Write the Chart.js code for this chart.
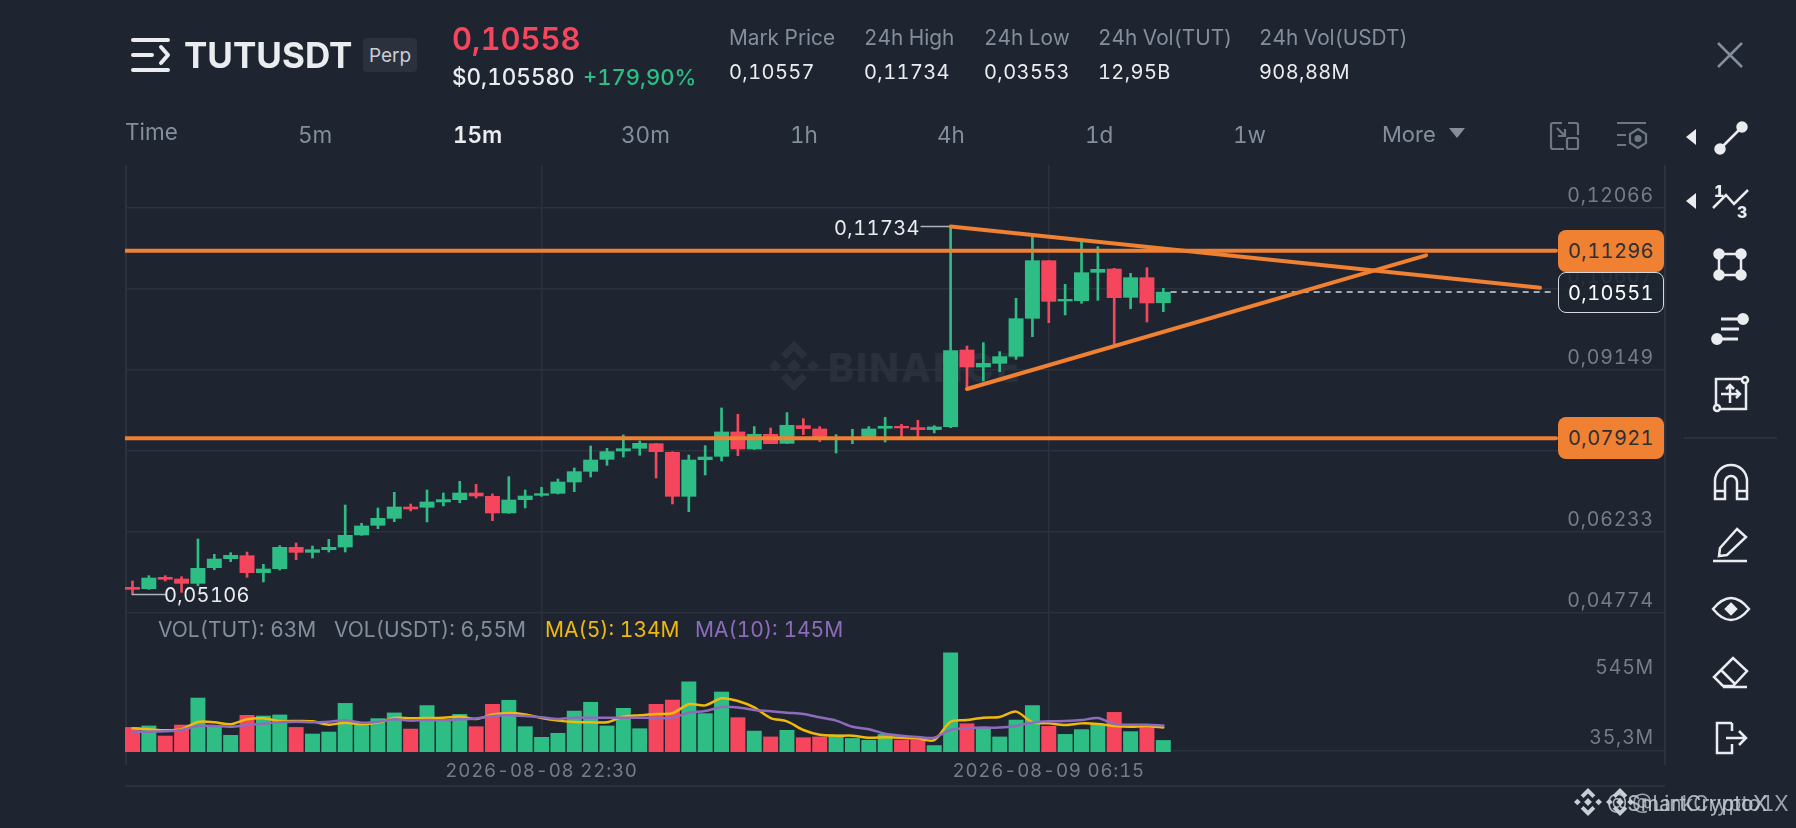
<!DOCTYPE html>
<html><head><meta charset="utf-8">
<script src="https://cdn.jsdelivr.net/npm/chart.js@4/dist/chart.umd.min.js"></script>
<style>
html,body{margin:0;padding:0;background:#1e2530;width:1796px;height:828px;overflow:hidden;font-family:Inter,"Noto Sans",sans-serif;font-feature-settings:"tnum" 1}
#c{position:absolute;left:0;top:0;z-index:2}
.t{position:absolute;white-space:nowrap;z-index:3;transform:translateY(-50%);line-height:1}
.g{color:#848e9c}.w{color:#eaecef}
.k{font-size:20.8px}.v{font-size:20px;letter-spacing:.4px}
.tb{font-size:22.5px;top:135px}
.lg{font-size:21px;top:629px}
.ln{position:absolute;background:#2b313d;z-index:1}
svg{position:absolute;z-index:3;overflow:visible}
.tag{position:absolute;z-index:4;left:1558px;width:106px;height:42px;border-radius:8px;background:#f08032;color:#2b2f36;font-size:20px;letter-spacing:.4px;display:flex;align-items:center;justify-content:center;box-sizing:border-box}
</style></head><body>
<div class="ln" style="left:125px;top:165px;width:1.5px;height:600px"></div>
<div class="ln" style="left:1664px;top:165px;width:1.5px;height:600px"></div>
<div class="ln" style="left:125px;top:785px;width:1540px;height:1.5px"></div>
<div class="ln" style="left:1684px;top:437px;width:93px;height:1.5px"></div>
<svg style="left:769px;top:341px;z-index:1" width="50" height="50" viewBox="0 0 50 50" fill="#2a303c"><path d="M25 0 38 13 33 18 25 10 17 18 12 13Z M0 25 6 19 12 25 6 31Z M38 25 44 19 50 25 44 31Z M25 18 32 25 25 32 18 25Z M12 37 17 32 25 40 33 32 38 37 25 50Z"/></svg>
<div class="t" style="left:828px;top:367px;font-size:39px;font-weight:800;color:#2a303c;letter-spacing:2px;z-index:1">BINANCE</div>

<svg style="left:130px;top:36px" width="42" height="38" fill="none" stroke="#eaecef" stroke-width="4" stroke-linecap="round" stroke-linejoin="round"><path d="M3 4H38M3 19H22M3 34H38M31 11 38 19 31 27"/></svg>
<div class="t w" style="left:184px;top:55px;font-size:35px;font-weight:700">TUTUSDT</div>
<div class="t" style="left:363px;top:55px;width:54px;height:34px;background:#2b313d;border-radius:4px;color:#c9ced6;font-size:19px;display:flex;align-items:center;justify-content:center">Perp</div>
<div class="t" style="left:452px;top:38px;font-size:31px;font-weight:600;color:#f6465d">0,10558</div>
<div class="t w" style="left:452px;top:77px;font-size:22.5px;font-weight:500">$0,105580</div>
<div class="t" style="left:583px;top:77px;font-size:22px;font-weight:500;color:#2ebd85">+179,90%</div>
<div class="t g k" style="left:729px;top:38px">Mark Price</div><div class="t w v" style="left:729px;top:72px">0,10557</div>
<div class="t g k" style="left:864px;top:38px">24h High</div><div class="t w v" style="left:864px;top:72px">0,11734</div>
<div class="t g k" style="left:984px;top:38px">24h Low</div><div class="t w v" style="left:984px;top:72px">0,03553</div>
<div class="t g k" style="left:1098px;top:38px">24h Vol(TUT)</div><div class="t w v" style="left:1098px;top:72px">12,95B</div>
<div class="t g k" style="left:1259px;top:38px">24h Vol(USDT)</div><div class="t w v" style="left:1259px;top:72px">908,88M</div>

<svg style="left:1716px;top:41px" width="28" height="28" stroke="#848e9c" stroke-width="2.5" fill="none"><path d="M2 2 26 26M26 2 2 26"/></svg>

<div class="t g tb" style="left:125px;top:132px">Time</div>
<div class="t g tb" style="left:298px">5m</div>
<div class="t w tb" style="left:453px;font-weight:600">15m</div>
<div class="t g tb" style="left:621px">30m</div>
<div class="t g tb" style="left:790px">1h</div>
<div class="t g tb" style="left:937px">4h</div>
<div class="t g tb" style="left:1085px">1d</div>
<div class="t g tb" style="left:1233px">1w</div>
<div class="t g tb" style="left:1382px;top:134px;font-size:22px">More</div>
<svg style="left:1449px;top:128px" width="16" height="10" fill="#848e9c"><path d="M0 0H16L8 10Z"/></svg>
<svg style="left:1550px;top:121px" width="30" height="30" fill="none" stroke="#6f7785" stroke-width="2.2"><path d="M12 2H3Q1 2 1 4V26Q1 28 3 28H14M18 2H26Q28 2 28 4V14M7 7 15 15M15 8V15H8"/><rect x="17" y="17" width="11" height="11" rx="1.5"/></svg>
<svg style="left:1617px;top:121px" width="32" height="30" fill="none" stroke="#6f7785" stroke-width="2.2"><path d="M0 2H29M0 14H9M0 24H9M21 8 29 13V22L21 27 13 22V13Z"/><circle cx="21" cy="17.5" r="2.5" fill="#6f7785"/></svg>

<div class="t g lg" style="left:158px">VOL(TUT): 63M</div>
<div class="t g lg" style="left:334px">VOL(USDT): 6,55M</div>
<div class="t lg" style="left:545px;color:#f0b90b">MA(5): 134M</div>
<div class="t lg" style="left:695px;color:#8e6cbb">MA(10): 145M</div>

<div class="t w v" style="left:834px;top:228px">0,11734</div>
<div class="t w v" style="left:164px;top:595px">0,05106</div>

<div class="tag" style="top:230px">0,11296</div>
<div class="tag" style="top:417px">0,07921</div>
<div class="tag" style="top:272px;height:41px;background:rgba(30,37,48,.88);border:1.5px solid #d5d8dc;color:#fff">0,10551</div>

<!-- right toolbar -->
<svg style="left:1686px;top:129px" width="12" height="16" fill="#eaecef"><path d="M10 0V16L0 8Z"/></svg>
<svg style="left:1686px;top:193px" width="12" height="16" fill="#eaecef"><path d="M10 0V16L0 8Z"/></svg>
<svg style="left:1714px;top:121px" width="34" height="34" stroke="#eaecef" stroke-width="2.5" fill="#eaecef"><path d="M6 28 28 6"/><circle cx="6" cy="28" r="4.5"/><circle cx="28" cy="6" r="4.5"/></svg>
<svg style="left:1712px;top:184px" width="38" height="36" fill="none" stroke="#eaecef" stroke-width="2.5"><path d="M1 24 14 11 22 20 36 6"/><text x="2" y="13" fill="#eaecef" stroke="none" font-size="16" font-weight="800" font-family="Inter">1</text><text x="25" y="34" fill="#eaecef" stroke="none" font-size="16" font-weight="800" font-family="Inter">3</text></svg>
<svg style="left:1714px;top:249px" width="32" height="32" stroke="#eaecef" stroke-width="2.5" fill="none"><rect x="5" y="5" width="22" height="21"/><g fill="#eaecef"><circle cx="5" cy="5" r="4.5"/><circle cx="27" cy="5" r="4.5"/><circle cx="5" cy="26" r="4.5"/><circle cx="27" cy="26" r="4.5"/></g></svg>
<svg style="left:1712px;top:313px" width="38" height="34" stroke="#eaecef" stroke-width="2.8" fill="#eaecef"><path d="M9 6H28M9 16H27M6 26H26"/><circle cx="31" cy="6" r="4.5"/><circle cx="5" cy="26" r="4.5"/></svg>
<svg style="left:1713px;top:376px" width="36" height="36" fill="none" stroke="#eaecef" stroke-width="2.5"><rect x="3" y="3" width="30" height="30"/><path d="M17 9V27M8 18H27M13 13 17 9 21 13M23 14 27 18 23 22"/><circle cx="32" cy="4" r="3" fill="#1e2530"/><circle cx="4" cy="32" r="3" fill="#1e2530"/></svg>
<svg style="left:1713px;top:463px" width="36" height="38" fill="none" stroke="#eaecef" stroke-width="2.5"><path d="M2 36V18A16 16 0 0 1 34 18V36H24V19A6 6 0 0 0 12 19V36ZM2 28H12M24 28H34"/></svg>
<svg style="left:1713px;top:527px" width="36" height="36" fill="none" stroke="#eaecef" stroke-width="2.5"><path d="M24 2 33 10 14 28 6 29 7 21ZM0 34H34" /></svg>
<svg style="left:1712px;top:595px" width="38" height="28" fill="none" stroke="#eaecef" stroke-width="2.5"><path d="M1 14Q19 -8 37 14 19 36 1 14Z"/><path d="M19 9 24 14 19 19 14 14Z" fill="#eaecef"/></svg>
<svg style="left:1713px;top:656px" width="36" height="34" fill="none" stroke="#eaecef" stroke-width="2.5"><path d="M20 2 34 15 20 30H10L1 21ZM8 14 22 28M10 31H34"/></svg>
<svg style="left:1714px;top:721px" width="36" height="34" fill="none" stroke="#eaecef" stroke-width="2.5"><path d="M18 2H3V32H18V23M18 10V2M12 17H32M25 10 32 17 25 24"/></svg>

<!-- footer -->
<svg style="left:1574px;top:788px" width="28" height="28" viewBox="0 0 50 50" fill="#c9ced6"><path d="M25 0 38 13 33 18 25 10 17 18 12 13Z M0 25 6 19 12 25 6 31Z M38 25 44 19 50 25 44 31Z M25 18 32 25 25 32 18 25Z M12 37 17 32 25 40 33 32 38 37 25 50Z"/></svg>
<svg style="left:1606px;top:788px" width="28" height="28" viewBox="0 0 50 50" fill="#c9ced6"><path d="M25 0 38 13 33 18 25 10 17 18 12 13Z M0 25 6 19 12 25 6 31Z M38 25 44 19 50 25 44 31Z M25 18 32 25 25 32 18 25Z M12 37 17 32 25 40 33 32 38 37 25 50Z"/></svg>
<div class="t" style="left:1607px;top:803px;font-size:21px;color:#c9ced6;opacity:.85">@SmartCryptoX</div>
<div class="t" style="left:1632px;top:803px;font-size:21px;color:#c9ced6;opacity:.75">@LinkCrypto1X</div>

<canvas id="c" width="1796" height="828"></canvas>
<script>
const opens=[.05235,.05211,.05415,.05385,.05307,.05589,.05751,.05805,.05499,.05571,.05955,.05865,.05913,.05961,.06178,.06352,.06478,.06682,.06676,.06772,.06814,.06934,.06874,.06574,.06814,.06892,.06928,.07132,.07324,.07540,.07690,.07738,.07822,.07666,.06874,.07534,.07594,.08033,.07726,.07991,.07828,.08147,.08087,.07912,.07912,.07936,.08099,.08135,.08111,.08075,.08128,.09509,.09202,.09269,.09395,.10079,.11117,.10391,.10397,.10907,.10967,.10457,.10811,.10361];
const closes=[.05199,.05403,.05379,.05307,.05577,.05745,.05811,.05499,.05565,.05955,.05865,.05913,.05955,.06172,.06340,.06478,.06682,.06646,.06772,.06814,.06934,.06880,.06574,.06808,.06880,.06922,.07132,.07318,.07528,.07678,.07732,.07828,.07678,.06874,.07528,.07582,.08033,.07726,.07991,.07822,.08153,.08093,.07912,.07936,.07936,.08087,.08135,.08105,.08075,.08123,.09497,.09202,.09269,.09389,.10073,.11117,.10385,.10421,.10901,.10961,.10451,.10811,.10355,.10551];
const highs=[.05349,.05445,.05445,.05427,.06106,.05829,.05859,.05871,.05649,.05985,.06034,.05979,.06100,.06718,.06388,.06664,.06946,.06736,.06988,.06934,.07144,.07090,.06916,.07228,.06988,.07036,.07186,.07384,.07780,.07738,.07979,.07870,.07828,.07678,.07618,.07786,.08465,.08351,.08129,.08105,.08381,.08273,.08129,.07984,.08081,.08129,.08297,.08171,.08243,.08147,.11734,.09581,.09641,.09479,.10439,.11538,.11117,.10691,.11448,.11370,.10979,.10889,.10991,.10619];
const lows=[.05106,.05199,.05349,.05145,.05265,.05553,.05697,.05415,.05331,.05547,.05733,.05763,.05871,.05871,.06172,.06292,.06418,.06610,.06412,.06700,.06760,.06844,.06436,.06568,.06664,.06874,.06916,.06958,.07222,.07432,.07582,.07612,.07204,.06736,.06598,.07258,.07510,.07606,.07720,.07822,.07822,.07984,.07858,.07654,.07822,.07912,.07852,.07936,.07936,.08015,.08110,.08818,.08950,.09118,.09341,.09749,.10001,.10139,.10349,.10403,.09617,.10253,.10013,.10199];
const volumes=[134,142,87,147,294,138,91,200,196,202,134,98,109,265,156,182,213,125,253,171,205,138,260,282,138,80,102,223,271,142,238,127,260,283,383,209,327,187,114,82,118,78,82,93,74,64,96,65,64,35,541,154,129,82,174,253,140,96,122,151,216,111,133,63];
const ma5=[129,124,118,124,164,162,151,178,184,169,169,167,149,160,151,160,185,184,185,187,193,180,204,213,205,185,171,164,162,162,193,200,207,211,260,254,293,278,243,185,167,120,94,89,89,78,80,78,73,65,165,174,187,191,220,162,156,147,156,153,142,138,140,134];
const ma10=[109,111,113,120,142,142,138,147,154,162,165,162,165,173,160,165,178,171,174,173,178,182,196,200,196,189,180,187,187,187,187,187,185,187,214,223,245,243,229,222,214,207,189,171,138,124,100,89,82,78,120,129,133,133,142,160,167,169,174,185,153,149,149,145];
const priceTicks=[.12066,.10607,.09149,.07691,.06233,.04774];
const volTicks=[545,35.3];
const xTickIndex=[25,56];
const xTickLabels=["2026-08-08 22:30","2026-08-09 06:15"];
const levelHigh=.11296, levelLow=.07921, lastPrice=.10551, maxPrice=.11734, minPrice=.05106;
const trendDownX=[50,86.03], trendDownY=[.11734,.10631];
const trendUpX=[51,79.06], trendUpY=[.08806,.11212];
const X_MIN=-0.458, X_MAX=93.6;
const UP='#2ebd85', DOWN='#f6465d', ORANGE='#f08032', GRID='#2b313d', TICK='#757d8a';
const FONT='Inter';
const col=opens.map((o,i)=>closes[i]>=o?UP:DOWN);
const pts=(xs,ys)=>xs.map((x,i)=>({x,y:ys[i]}));
const lineDs=(data,color,w,extra)=>Object.assign({type:'line',data,borderColor:color,borderWidth:w,pointRadius:0,yAxisID:'yPrice',order:1,tension:0,borderCapStyle:'round'},extra||{});
const idx=opens.map((_,i)=>i);
new Chart(document.getElementById('c'),{
 type:'bar',
 plugins:[{id:'spacing',beforeDraw(c){c.ctx.letterSpacing='0.8px';}}],
 data:{datasets:[
  {data:idx.map(i=>({x:i,y:[lows[i],highs[i]]})),backgroundColor:col,barThickness:2,grouped:false,yAxisID:'yPrice',order:6},
  {data:idx.map(i=>({x:i,y:[opens[i],closes[i]]})),backgroundColor:col,barThickness:14.3,grouped:false,yAxisID:'yPrice',order:5},
  {data:idx.map(i=>({x:i,y:volumes[i]})),backgroundColor:col,barThickness:14.3,grouped:false,yAxisID:'yVol',order:5},
  lineDs(pts(idx,ma5),'#f0b90b',2.5,{yAxisID:'yVol',order:3,tension:.3}),
  lineDs(pts(idx,ma10),'#8e6cbb',2.5,{yAxisID:'yVol',order:2,tension:.3}),
  lineDs(pts([X_MIN,87],[levelHigh,levelHigh]),ORANGE,4),
  lineDs(pts([X_MIN,87],[levelLow,levelLow]),ORANGE,4),
  lineDs(pts(trendDownX,trendDownY),ORANGE,4),
  lineDs(pts(trendUpX,trendUpY),ORANGE,4),
  lineDs(pts([63.45,86.9],[lastPrice,lastPrice]),'#d5d8dc',1.5,{borderDash:[6,5],borderCapStyle:'butt'}),
  lineDs(pts([48.2,50],[maxPrice,maxPrice]),'#aeb4bc',1.5),
  lineDs(pts([0,2],[minPrice,minPrice]),'#aeb4bc',1.5)
 ]},
 options:{
  responsive:false,animation:false,devicePixelRatio:1,
  layout:{padding:{left:125,right:132,top:165,bottom:46}},
  plugins:{legend:{display:false},tooltip:{enabled:false}},
  scales:{
   x:{type:'linear',min:X_MIN,max:X_MAX,offset:false,
      afterBuildTicks:s=>{s.ticks=xTickIndex.map(v=>({value:v}));},
      afterFit:s=>{s.height=30;},
      grid:{offset:false,color:GRID,lineWidth:1.5,drawTicks:false},border:{display:false},
      ticks:{autoSkip:false,maxRotation:0,padding:8,color:TICK,font:{family:FONT,size:18.7},
             callback:v=>xTickLabels[xTickIndex.indexOf(v)]}},
   yPrice:{type:'linear',position:'right',min:.02270,max:.12840,
      afterBuildTicks:s=>{s.ticks=priceTicks.map(v=>({value:v}));},
      afterFit:s=>{s.width=0;},
      grid:{color:GRID,lineWidth:1.5,drawTicks:false},border:{display:false},
      ticks:{mirror:true,padding:-10,labelOffset:-12,color:TICK,font:{family:FONT,size:19.5},
             callback:v=>v.toFixed(5).replace('.',',')}},
   yVol:{type:'linear',position:'right',display:false,min:0,max:3199},
   yVolAxis:{type:'linear',position:'right',min:24.4,max:4298,
      afterBuildTicks:s=>{s.ticks=volTicks.map(v=>({value:v}));},
      afterFit:s=>{s.width=0;},
      grid:{color:c=>c.tick&&c.tick.value<100?GRID:'rgba(0,0,0,0)',lineWidth:1.5,drawTicks:false},border:{display:false},
      ticks:{mirror:true,padding:-10,labelOffset:-12,color:TICK,font:{family:FONT,size:19.5},
             callback:v=>String(v).replace('.',',')+'M'}}
  }
 }
});
</script>
</body></html>
